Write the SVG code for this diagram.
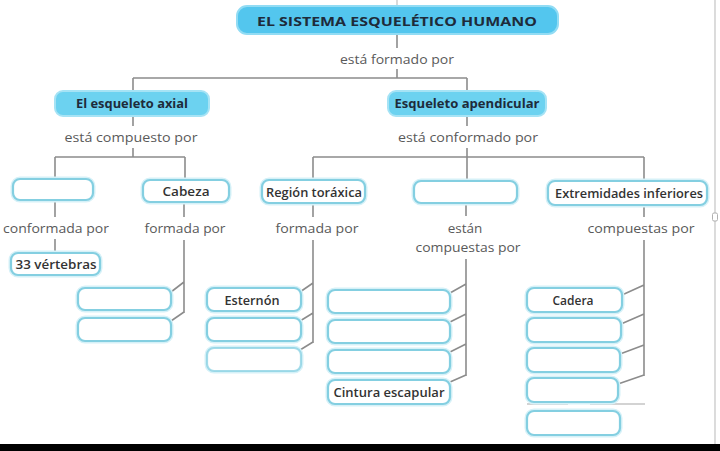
<svg xmlns="http://www.w3.org/2000/svg" width="720" height="451" viewBox="0 0 720 451">
<defs>
<style>
.ln{stroke:#8c8c8c;stroke-width:1.6;fill:none}
.bx{fill:#ffffff;stroke:#84cfe1;stroke-width:2.2}
.gl{fill:none;stroke:#d6f1f8;stroke-width:5}
.fb{fill:#6cd2f0;stroke:#a6e3f5;stroke-width:2}
.tb{fill:#53c6ee;stroke:#92dcf4;stroke-width:2}
.lb{font-family:"Open Sans","Noto Sans",sans-serif;font-size:13.5px;fill:#5a5a5a;text-anchor:middle}
.nt{font-family:"Open Sans","Noto Sans",sans-serif;font-size:12px;font-weight:600;fill:#333;text-anchor:middle}
.ht{font-family:"Open Sans","Noto Sans",sans-serif;font-size:12.5px;font-weight:700;fill:#1e2b3a;text-anchor:middle}
</style>
</defs>
<rect width="720" height="451" fill="#ffffff"/>
<line x1="715" y1="0" x2="715" y2="444" stroke="#c4c4c4" stroke-width="1.2"/>
<rect x="712.5" y="213" width="5" height="8" rx="1.5" fill="#fff" stroke="#b0b0b0" stroke-width="1"/>

<g id="connectors">
<line class="ln" x1="397" y1="0" x2="397" y2="6" stroke-opacity="0.4"/>
<path class="ln" d="M397 34V48M397 69V78M133 78H467M133 78V91M467 78V91"/>
<path class="ln" d="M133 116V126M133 148V157M55 157H185M55 157V180M185 157V180"/>
<path class="ln" d="M467 116V126M467 148V157M313 157H644M313 157V180M467 157V181M644 157V181"/>
<path class="ln" d="M55 200V217M55 239V253"/>
<path class="ln" d="M184 202V217M184 240V313M171 292L184 282M171 321L184 312"/>
<path class="ln" d="M313 203V217M313 240V343M300 292L313 283M300 321L313 313M300 350L313 342"/>
<path class="ln" d="M466 203V216M466 259V376M450 293L466 284M450 322L466 314M450 352L466 344M450 382L466 375"/>
<path class="ln" d="M644 205V217M644 240V376M622 295L644 285M621 324L644 314M620 354L644 345M618 384L644 375"/>
<path d="M527 404H568M590 404H645" stroke="#a8a8a8" stroke-width="1.2" fill="none"/>
</g>

<g id="title">
<rect class="tb" x="237" y="6" width="321" height="28" rx="10"/>
<text class="ht" x="397" y="26" font-size="14.5" textLength="280" lengthAdjust="spacingAndGlyphs">EL SISTEMA ESQUELÉTICO HUMANO</text>
</g>
<text class="lb" x="397" y="64" textLength="114" lengthAdjust="spacingAndGlyphs">está formado por</text>

<g id="axial">
<rect class="fb" x="55" y="91" width="154" height="25" rx="8"/>
<text class="ht" x="132" y="108" textLength="112" lengthAdjust="spacingAndGlyphs">El esqueleto axial</text>
</g>
<g id="apendicular">
<rect class="fb" x="388" y="91" width="158" height="25" rx="8"/>
<text class="ht" x="467" y="108" textLength="145" lengthAdjust="spacingAndGlyphs">Esqueleto apendicular</text>
</g>
<text class="lb" x="131" y="142" textLength="133" lengthAdjust="spacingAndGlyphs">está compuesto por</text>
<text class="lb" x="468" y="142" textLength="140" lengthAdjust="spacingAndGlyphs">está conformado por</text>

<g id="n-columna">
<rect class="gl" x="13" y="179" width="80" height="21" rx="7"/>
<rect class="bx" x="13" y="179" width="80" height="21" rx="7"/>
</g>
<g id="n-cabeza">
<rect class="gl" x="143" y="180" width="86" height="22" rx="7"/>
<rect class="bx" x="143" y="180" width="86" height="22" rx="7"/>
<text class="nt" x="186" y="196" textLength="47" lengthAdjust="spacingAndGlyphs">Cabeza</text>
</g>
<g id="n-toracica">
<rect class="gl" x="262" y="180" width="103" height="23" rx="7"/>
<rect class="bx" x="262" y="180" width="103" height="23" rx="7"/>
<text class="nt" x="314" y="197" textLength="96" lengthAdjust="spacingAndGlyphs">Región toráxica</text>
</g>
<g id="n-superiores">
<rect class="gl" x="414" y="181" width="103" height="22" rx="7"/>
<rect class="bx" x="414" y="181" width="103" height="22" rx="7"/>
</g>
<g id="n-inferiores">
<rect class="gl" x="548" y="181" width="159" height="24" rx="7"/>
<rect class="bx" x="548" y="181" width="159" height="24" rx="7"/>
<text class="nt" x="629" y="198" textLength="148" lengthAdjust="spacingAndGlyphs">Extremidades inferiores</text>
</g>

<text class="lb" x="56" y="233" textLength="106" lengthAdjust="spacingAndGlyphs">conformada por</text>
<text class="lb" x="185" y="233" textLength="81" lengthAdjust="spacingAndGlyphs">formada por</text>
<text class="lb" x="317" y="233" textLength="83" lengthAdjust="spacingAndGlyphs">formada por</text>
<text class="lb" x="465" y="233">están</text>
<text class="lb" x="468" y="252" textLength="105" lengthAdjust="spacingAndGlyphs">compuestas por</text>
<text class="lb" x="641" y="233" textLength="107" lengthAdjust="spacingAndGlyphs">compuestas por</text>

<g id="n-vertebras">
<rect class="gl" x="11" y="253" width="89" height="22" rx="7"/>
<rect class="bx" x="11" y="253" width="89" height="22" rx="7"/>
<text class="nt" x="56" y="269" textLength="81" lengthAdjust="spacingAndGlyphs">33 vértebras</text>
</g>

<g id="n-cab1"><rect class="gl" x="78" y="288" width="93" height="22" rx="7"/><rect class="bx" x="78" y="288" width="93" height="22" rx="7"/></g>
<g id="n-cab2"><rect class="gl" x="78" y="318" width="93" height="23" rx="7"/><rect class="bx" x="78" y="318" width="93" height="23" rx="7"/></g>

<g id="n-esternon"><rect class="gl" x="207" y="288" width="94" height="23" rx="7"/><rect class="bx" x="207" y="288" width="94" height="23" rx="7"/>
<text class="nt" x="252" y="305" textLength="55" lengthAdjust="spacingAndGlyphs">Esternón</text></g>
<g id="n-tor2"><rect class="gl" x="207" y="318" width="94" height="23" rx="7"/><rect class="bx" x="207" y="318" width="94" height="23" rx="7"/></g>
<g id="n-tor3"><rect class="gl" x="207" y="348" width="94" height="23" rx="7"/><rect class="bx" x="207" y="348" width="94" height="23" rx="7" stroke-opacity="0.75"/></g>

<g id="n-sup1"><rect class="gl" x="328" y="290" width="122" height="23" rx="7"/><rect class="bx" x="328" y="290" width="122" height="23" rx="7"/></g>
<g id="n-sup2"><rect class="gl" x="328" y="320" width="122" height="23" rx="7"/><rect class="bx" x="328" y="320" width="122" height="23" rx="7"/></g>
<g id="n-sup3"><rect class="gl" x="328" y="350" width="122" height="23" rx="7"/><rect class="bx" x="328" y="350" width="122" height="23" rx="7"/></g>
<g id="n-cintura"><rect class="gl" x="328" y="380" width="122" height="24" rx="7"/><rect class="bx" x="328" y="380" width="122" height="24" rx="7"/>
<text class="nt" x="389" y="397" textLength="111" lengthAdjust="spacingAndGlyphs">Cintura escapular</text></g>

<g id="n-cadera"><rect class="gl" x="527" y="288" width="95" height="24" rx="7"/><rect class="bx" x="527" y="288" width="95" height="24" rx="7"/>
<text class="nt" x="573" y="305" textLength="41" lengthAdjust="spacingAndGlyphs">Cadera</text></g>
<g id="n-inf2"><rect class="gl" x="527" y="318" width="94" height="24" rx="7"/><rect class="bx" x="527" y="318" width="94" height="24" rx="7"/></g>
<g id="n-inf3"><rect class="gl" x="527" y="348" width="93" height="24" rx="7"/><rect class="bx" x="527" y="348" width="93" height="24" rx="7"/></g>
<g id="n-inf4"><rect class="gl" x="527" y="378" width="91" height="24" rx="7"/><rect class="bx" x="527" y="378" width="91" height="24" rx="7"/></g>
<g id="n-inf5"><rect class="gl" x="527" y="411" width="93" height="24" rx="7"/><rect class="bx" x="527" y="411" width="93" height="24" rx="7"/></g>

<rect x="0" y="444" width="720" height="7" fill="#000"/>
</svg>
